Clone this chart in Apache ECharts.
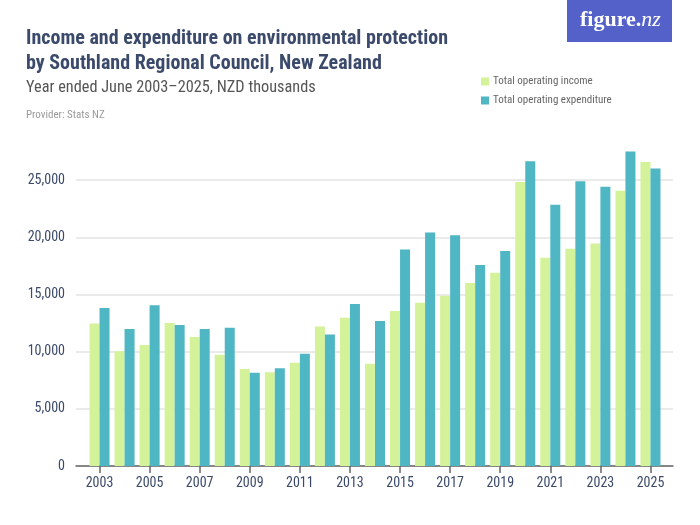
<!DOCTYPE html>
<html>
<head>
<meta charset="utf-8">
<script src="https://cdn.jsdelivr.net/npm/echarts@6/dist/echarts.min.js"></script>
<style>html,body{margin:0;padding:0;background:#fff}#c{width:700px;height:525px}</style>
</head>
<body>
<div id="c"></div>
<script>
var years = ['2003','2004','2005','2006','2007','2008','2009','2010','2011','2012','2013','2014','2015','2016','2017','2018','2019','2020','2021','2022','2023','2024','2025'];
var income = [12470,10030,10580,12500,11280,9730,8480,8190,9030,12210,12960,8940,13550,14280,14890,16000,16900,24850,18210,19000,19470,24070,26580];
var expenditure = [13810,11980,14050,12330,11980,12090,8160,8540,9820,11510,14160,12680,18940,20430,20190,17570,18800,26660,22840,24910,24420,27510,26020];
var yTicks = [0,5000,10000,15000,20000,25000];
var seriesNames = ['Total operating income','Total operating expenditure'];

var FONT = '"Liberation Sans Narrow","Roboto Condensed","DejaVu Sans Condensed",Roboto,sans-serif';
var chart = echarts.init(document.getElementById('c'));
var gridTop = 123, gridBottom = 59;
chart.setOption({
  animation: false,
  textStyle: {fontFamily: FONT},
  title: [
    {text: 'Income and expenditure on environmental protection\nby Southland Regional Council, New Zealand', left: 21, top: 21,
     textStyle: {fontFamily: FONT, fontSize: 20, fontWeight: 'bold', color: '#3b4a6b', lineHeight: 25}},
    {text: 'Year ended June 2003\u20132025, NZD thousands', left: 21, top: 75,
     textStyle: {fontFamily: FONT, fontSize: 16.3, fontWeight: 'normal', color: '#555'}},
    {text: 'Provider: Stats NZ', left: 21, top: 105,
     textStyle: {fontFamily: FONT, fontSize: 11, fontWeight: 'normal', color: '#999'}}
  ],
  graphic: [
    {type: 'rect', shape: {x: 567, y: 0, width: 105, height: 42}, style: {fill: '#5361c8'}},
    {type: 'text', left: 580, top: 9, style: {
      text: '{a|figure.}{b|nz}', fill: '#fff',
      rich: {a: {fontFamily: '"Liberation Serif",serif', fontSize: 22, fontWeight: 'bold', fill: '#fff'},
             b: {fontFamily: '"Liberation Serif",serif', fontSize: 22, fontStyle: 'italic', fill: '#fff'}}}}
  ],
  legend: {
    orient: 'vertical', left: 476, top: 71, itemWidth: 8, itemHeight: 8, itemGap: 8,
    icon: 'rect', data: seriesNames,
    textStyle: {fontFamily: FONT, fontSize: 11, color: '#666', padding: [0,0,0,-1]}
  },
  grid: [
    {left: 76, right: 27, top: gridTop, bottom: gridBottom},
    {left: 87, right: 37, top: gridTop, bottom: gridBottom}
  ],
  xAxis: [
    {gridIndex: 0, type: 'value', min: 0, max: 1, axisLine: {show: true, onZero: false, lineStyle: {color: '#666', width: 1.5}},
     axisTick: {show: false}, axisLabel: {show: false}, splitLine: {show: false}},
    {gridIndex: 1, type: 'category', data: years, axisLine: {show: false},
     axisTick: {show: true, alignWithLabel: true, interval: 1, length: 7, lineStyle: {color: '#666', width: 1.5}},
     axisLabel: {interval: 1, margin: 10, fontFamily: FONT, fontSize: 14, color: '#3b4a6b'}}
  ],
  yAxis: [
    {gridIndex: 0, type: 'value', min: 0, max: 30000, interval: 5000,
     axisLine: {show: false}, axisTick: {show: false},
     axisLabel: {showMaxLabel: false, margin: 11, fontFamily: FONT, fontSize: 14, color: '#3b4a6b',
       formatter: function (v) { return yTicks.indexOf(v) >= 0 ? v.toLocaleString('en-US') : ''; }},
     splitLine: {lineStyle: {color: ['#e3e3e3','#e3e3e3','#e3e3e3','#e3e3e3','#e3e3e3','#e3e3e3','rgba(0,0,0,0)'], width: 1.5}}},
    {gridIndex: 1, type: 'value', min: 0, max: 30000, interval: 5000, show: false, splitLine: {show: false}}
  ],
  series: [
    {name: seriesNames[0], type: 'bar', xAxisIndex: 1, yAxisIndex: 1, data: income, barWidth: 10, barGap: '0%',
     itemStyle: {color: '#d4f299'}},
    {name: seriesNames[1], type: 'bar', xAxisIndex: 1, yAxisIndex: 1, data: expenditure, barWidth: 10, barGap: '0%',
     itemStyle: {color: '#4fb6c4'}}
  ]
});
</script>
</body>
</html>
